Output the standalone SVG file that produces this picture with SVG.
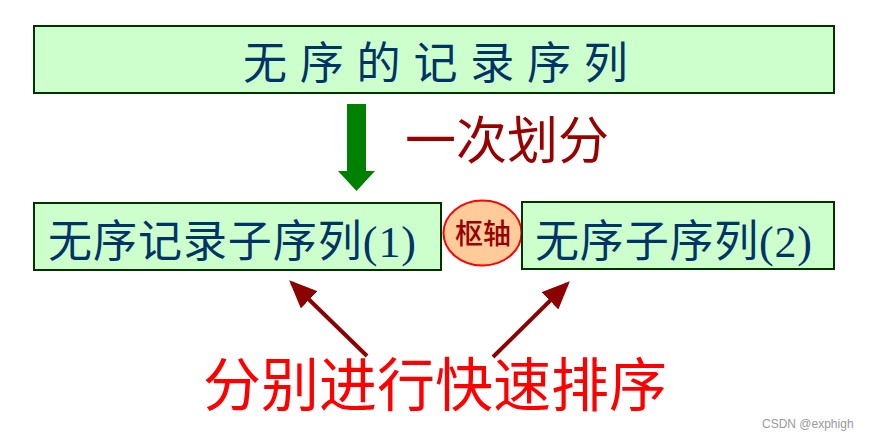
<svg xmlns="http://www.w3.org/2000/svg" width="869" height="440" viewBox="0 0 869 440">
<style>
.box{fill:#CCFFCC;stroke:#003300;stroke-width:2}
.nt{font-family:"Liberation Serif","Noto Sans CJK SC",serif;fill:#003366}
.red{font-family:"Noto Sans CJK SC",sans-serif}
</style>
<defs>
<marker id="ah" markerWidth="7" markerHeight="6" refX="6" refY="3" orient="auto" markerUnits="strokeWidth">
<path d="M0,0 L7,3 L0,6 Z" fill="#8B0000"/>
</marker>
</defs>
<rect width="869" height="440" fill="#ffffff"/>
<g id="top">
<rect class="box" x="34" y="26" width="800" height="67"/>
<text class="nt" x="243" y="79" font-size="44" letter-spacing="12.8">无序的记录序列</text>
</g>
<g id="left">
<rect class="box" x="34" y="203" width="407" height="67"/>
<text class="nt" x="48" y="257" font-size="44" textLength="368">无序记录子序列(1)</text>
</g>
<g id="pivot">
<ellipse cx="482.5" cy="233" rx="39" ry="32.5" fill="#FFCC99" stroke="#FF0000" stroke-width="2"/>
<text class="red" x="483" y="244" font-size="28" font-weight="500" fill="#990000" text-anchor="middle">枢轴</text>
</g>
<g id="right">
<rect class="box" x="522" y="202" width="312" height="67"/>
<text class="nt" x="535" y="257" font-size="44" textLength="277">无序子序列(2)</text>
</g>
<g id="label1">
<text class="red" x="405" y="159" font-size="51" fill="#990000">一次划分</text>
</g>
<g id="label2">
<text class="red" x="203" y="406" font-size="58" fill="#FF0000">分别进行快速排序</text>
</g>
<g id="connectors">
<path d="M347,104 H366 V171 H375 L356.5,191 L338,171 H347 Z" fill="#008000"/>
<line x1="367" y1="356" x2="292" y2="283" stroke="#8B0000" stroke-width="4" marker-end="url(#ah)"/>
<line x1="493" y1="357" x2="567" y2="284" stroke="#8B0000" stroke-width="4" marker-end="url(#ah)"/>
</g>
<text x="762" y="428" font-family="Liberation Sans,sans-serif" font-size="12" fill="#999999">CSDN @exphigh</text>
</svg>
